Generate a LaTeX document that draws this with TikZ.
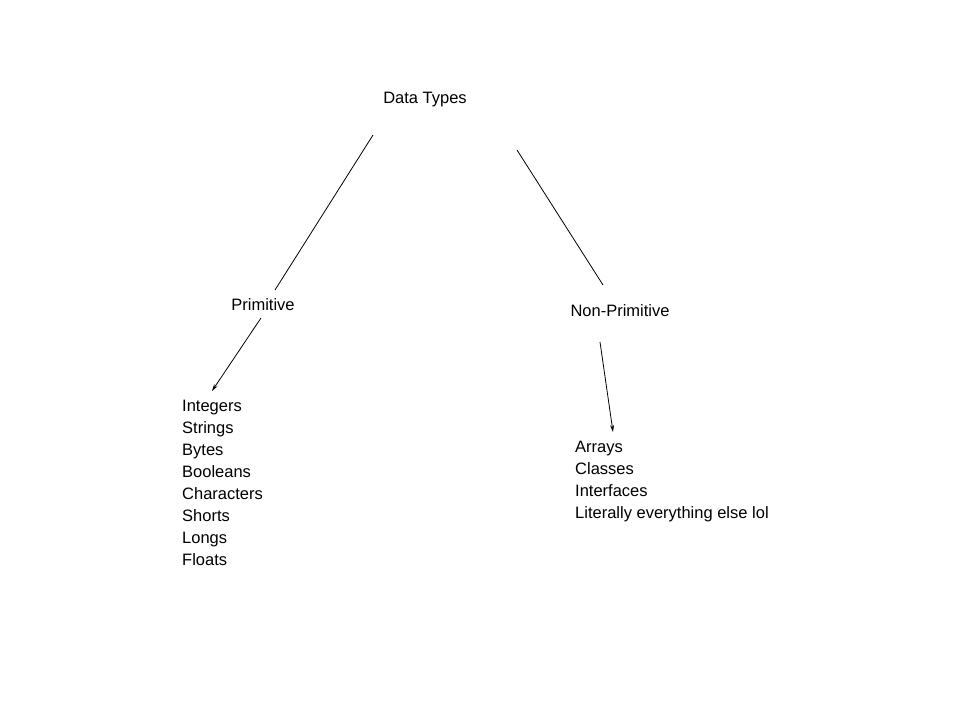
\documentclass[tikz,border=0pt]{standalone}
\usepackage{fontspec}
\setmainfont{Liberation Sans}
\usetikzlibrary{arrows.meta}
\begin{document}
\begin{tikzpicture}[x=1pt,y=-1pt,
  lbl/.style={inner sep=0pt,font=\fontsize{16.5}{22}\selectfont},
  lst/.style={lbl,align=left,anchor=west},
  ln/.style={line width=0.8pt},
  arr/.style={ln,-{Stealth[length=7pt,width=4pt]}}]
\useasboundingbox (0,0) rectangle (960,720);
\node[lbl] (dt) at (425,100) {Data Types};
\node[lbl] (prim) at (263,305) {Primitive};
\node[lbl] (nonp) at (620,311) {Non-Primitive};
\node[lst] (plist) at (182,483) {Integers\\Strings\\Bytes\\Booleans\\Characters\\Shorts\\Longs\\Floats};
\node[lst] (nlist) at (575,482) {Arrays\\Classes\\Interfaces\\Literally everything else lol};
\coordinate (a1) at (373,135); \coordinate (a2) at (275,290);
\coordinate (b1) at (517,150); \coordinate (b2) at (603,285);
\coordinate (c1) at (261,318); \coordinate (c2) at (212,391);
\coordinate (d1) at (600,342); \coordinate (d2) at (613,432);
\draw[ln] (a1) -- (a2);
\draw[ln] (b1) -- (b2);
\draw[arr] (c1) -- (c2);
\draw[arr] (d1) -- (d2);
\end{tikzpicture}
\end{document}
